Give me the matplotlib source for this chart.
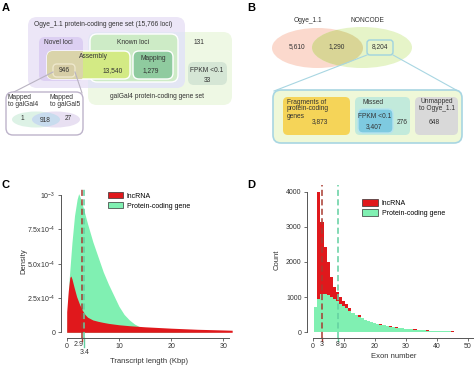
import numpy as np
import matplotlib.pyplot as plt
from matplotlib.patches import FancyBboxPatch, Ellipse, Patch

plt.rcParams['font.family'] = ['Liberation Sans', 'DejaVu Sans']
plt.rcParams['mathtext.fontset'] = 'custom'
plt.rcParams['mathtext.rm'] = 'Liberation Sans'
plt.rcParams['mathtext.it'] = 'Liberation Sans:italic'

# ---- panel A : gene set overlap
a_title = 'Ogye_1.1 protein-coding gene set (15,766 loci)'
a_ref_set = 'galGal4 protein-coding gene set'
a_groups = ['Novel loci', 'Known loci', 'Assembly', 'Mapping']
a_counts = ['946', '13,540', '1,279', '131', '33']
a_sub_labels = ['Mapped\nto galGal4', 'Mapped\nto galGal5']
a_sub_counts = ['1', '918', '27']

# ---- panel B : lncRNA overlap with NONCODE
b_sets = ['Ogye_1.1', 'NONCODE']
b_counts = ['5,610', '1,290', '8,204']
b_groups = ['Fragments of\nprotein-coding\ngenes', 'Missed', 'Unmapped\nto Ogye_1.1']
b_split = ['3,873', '3,407', '276', '648']

# ---- panel C : transcript length density
pc_len = [0, 0.2, 0.5, 1.0, 1.5, 2.0, 2.3, 2.6, 3.0, 3.5, 4.0, 5.0, 6.0, 7.0, 8.0,
          9.0, 10, 11, 12, 13, 14, 15, 17, 20, 25, 31]
pc_dens = np.array([0.0, 0.18, 0.4, 0.65, 0.85, 0.97, 1.01, 0.98, 0.93, 0.86, 0.79,
                    0.66, 0.55, 0.44, 0.35, 0.27, 0.19, 0.13, 0.09, 0.06, 0.04, 0.025,
                    0.012, 0.006, 0.003, 0.001]) * 1e-3
lnc_len = [0, 0.3, 0.6, 0.8, 1.0, 1.4, 1.9, 2.5, 3.0, 3.5, 4.0, 5.0, 6.0, 7.0, 8.0,
           10, 12, 15, 20, 25, 30, 31.7]
lnc_dens = np.array([0.15, 0.3, 0.4, 0.41, 0.39, 0.33, 0.26, 0.2, 0.16, 0.13, 0.11,
                     0.09, 0.08, 0.072, 0.065, 0.055, 0.048, 0.04, 0.03, 0.022, 0.017,
                     0.015]) * 1e-3
len_median = [2.9, 3.4]   # lncRNA, protein-coding

# ---- panel D : exon number histogram (bins 1..52)
exon_lnc = [0, 3980, 3150, 2440, 1990, 1560, 1290, 1150, 1010, 880, 800, 700, 550, 480,
            500, 370, 350, 320, 300, 275, 250, 228, 208, 190, 172, 157, 143, 130, 118,
            107, 97, 88, 80, 72, 65, 59, 53, 48, 44, 40, 36, 33, 30, 27, 25, 22, 20, 18,
            17, 15, 14, 13]
exon_pc = [730, 960, 1100, 1100, 1060, 1000, 950, 880, 810, 750, 680, 610, 545, 490,
           440, 400, 360, 325, 295, 265, 240, 218, 198, 180, 163, 148, 135, 122, 110,
           100, 90, 82, 74, 67, 60, 54, 49, 44, 40, 36, 33, 30, 27, 24, 22, 20, 18, 16,
           15, 13, 12, 11]
exon_median = [3, 8]

RED = '#E0181C'
GREEN = '#80F0B2'
RED_D = '#A83A30'
GREEN_D = '#62CFA0'
TXT = '#333333'
AXC = '#555555'

W, H = 474, 375
fig = plt.figure(figsize=(W / 100, H / 100), dpi=100)

# overlay in pixel coordinates for the diagrams
ov = fig.add_axes([0, 0, 1, 1])
ov.set_xlim(0, W)
ov.set_ylim(H, 0)
ov.axis('off')


def rbox(x0, y0, x1, y1, fc, ec='none', lw=0, r=6, z=1):
    p = FancyBboxPatch((x0, y0), x1 - x0, y1 - y0,
                       boxstyle='round,pad=0,rounding_size=%g' % r,
                       fc=fc, ec=ec, lw=lw, zorder=z)
    ov.add_patch(p)
    return p


def txt(x, y, s, size=4.8, ha='center', **kw):
    ov.text(x, y, s, fontsize=size, ha=ha, va='center', color=TXT, zorder=20,
            linespacing=1.0, **kw)


# ---------------- panel A
gal = rbox(88, 32, 232, 105, '#EEF8E4', r=9, z=1)
ogy = rbox(28, 17, 185, 88, '#ECE6F7', r=9, z=1.1)
ovl = rbox(88, 32, 232, 105, '#E3E6F4', r=9, z=1.2)
ovl.set_clip_path(ogy)
novel = rbox(39, 37, 83, 81, '#DCCFF2', r=6, z=2)
rbox(90, 34, 178, 82, '#CDEBC6', ec='white', lw=1, r=7, z=2)
rbox(47, 51, 130, 79, '#D3EA84', ec='white', lw=1, r=6, z=3)
asm2 = rbox(47, 51, 130, 79, '#DAD4AA', r=6, z=3.1)
asm2.set_clip_path(novel)
rbox(133, 51, 173, 79, '#8FCB9F', ec='white', lw=1, r=6, z=3)
rbox(53, 64, 75, 77, '#D6CDA6', ec='#EEE8CC', lw=1, r=4, z=4)
rbox(188, 62, 227, 85, '#D5E6D5', r=6, z=2)

txt(103, 24, a_title)
txt(157, 97, a_ref_set)
txt(58, 43, a_groups[0])
txt(133, 43, a_groups[1])
txt(93, 56, a_groups[2])
txt(153, 58, a_groups[3])
txt(64, 70.5, a_counts[0])
txt(113, 70.5, a_counts[1])
txt(151, 70.5, a_counts[2])
txt(199, 43, a_counts[3])
txt(207, 70, 'FPKM <0.1')
txt(207, 80, a_counts[4])

ov.plot([53, 12], [72, 93], color='#B9B3C2', lw=0.8, zorder=5)
ov.plot([75, 82], [72, 93], color='#B9B3C2', lw=0.8, zorder=5)
rbox(6, 92, 83, 135, 'white', ec='#BDB3CA', lw=1, r=7, z=6)
el = Ellipse((36, 119.5), 48, 16, fc='#DDF2E6', ec='none', zorder=7)
er = Ellipse((56, 119.5), 48, 16, fc='#E8E0F2', ec='none', zorder=7)
ov.add_patch(el)
ov.add_patch(er)
eo = Ellipse((56, 119.5), 48, 16, fc='#C8DCEE', ec='none', zorder=8)
ov.add_patch(eo)
eo.set_clip_path(el)
txt(8, 101, a_sub_labels[0], ha='left')
txt(50, 101, a_sub_labels[1], ha='left')
txt(22, 119, a_sub_counts[0])
txt(45, 120, a_sub_counts[1])
txt(68, 119, a_sub_counts[2])

# ---------------- panel B
ep = Ellipse((317.5, 48), 91, 40, fc='#FBD9CD', ec='none', zorder=1)
eg = Ellipse((362, 47.5), 100, 41, fc='#E6F4C8', ec='none', zorder=1.1)
ov.add_patch(ep)
ov.add_patch(eg)
eb = Ellipse((362, 47.5), 100, 41, fc='#D9D596', ec='none', zorder=1.2)
ov.add_patch(eb)
eb.set_clip_path(ep)
rbox(367, 40, 393, 55, 'none', ec='#9FD3E0', lw=1, r=3, z=3)
txt(308, 20, b_sets[0])
txt(367, 20, b_sets[1])
txt(297, 47, b_counts[0])
txt(337, 47, b_counts[1])
txt(380, 47, b_counts[2])

ov.plot([367, 274], [55, 91], color='#A8D6E2', lw=0.8, zorder=2)
ov.plot([393, 458], [55, 91], color='#A8D6E2', lw=0.8, zorder=2)
rbox(273, 90, 462, 143, '#EFF8D8', ec='#A8D6E2', lw=1.2, r=8, z=3)
rbox(283, 97, 350, 135, '#F5D458', r=5, z=4)
rbox(355, 97, 410, 135, '#C2EADB', r=5, z=4)
rbox(358, 109, 393, 133, '#7ECAE0', ec='#B5E3EF', lw=1, r=5, z=5)
rbox(415, 97, 458, 135, '#D9D9D9', r=5, z=4)
txt(287, 109, b_groups[0], ha='left')
txt(320, 122, b_split[0])
txt(373, 103, b_groups[1])
txt(375, 117, 'FPKM <0.1')
txt(374, 127, b_split[1])
txt(402, 122, b_split[2])
txt(437, 105, b_groups[2])
txt(434, 122, b_split[3])

for x, y, s in [(2, 8, 'A'), (247, 8, 'B'), (2, 185, 'C'), (247, 185, 'D')]:
    ov.text(x, y, s, fontsize=8, fontweight='bold', ha='left', va='center', zorder=30)


# ---------------- R-like axes helper
def style(ax, xb, yb):
    for s in ['top', 'right']:
        ax.spines[s].set_visible(False)
    ax.spines['left'].set_position(('outward', 4.3))
    ax.spines['bottom'].set_position(('outward', 3.9))
    ax.spines['left'].set_bounds(*yb)
    ax.spines['bottom'].set_bounds(*xb)
    for s in ['left', 'bottom']:
        ax.spines[s].set_color(AXC)
        ax.spines[s].set_linewidth(0.7)
    ax.tick_params(length=2.2, width=0.6, color=AXC, labelsize=5, labelcolor=TXT, pad=1.5)
    ax.patch.set_alpha(0)


# ---------------- panel C
px_c = 5.22
axc = fig.add_axes([66.7 / W, 1 - 332.3 / H, 31.7 * px_c / W, (332.3 - 189.5) / H])
axc.fill_between(pc_len, pc_dens, color=GREEN, lw=0, zorder=1)
axc.fill_between(lnc_len, lnc_dens, color=RED, lw=0, zorder=2)
axc.set_xlim(0, 31.7)
axc.set_ylim(0, 1.04e-3)
axc.set_yticks([0, 2.5e-4, 5e-4, 7.5e-4, 1e-3])
axc.set_yticklabels(['0', r'2.5x10$^{-4}$', r'5.0x10$^{-4}$', r'7.5x10$^{-4}$', r'10$^{-3}$'])
axc.set_xticks([0, 10, 20, 30])
style(axc, (0, 31), (0, 1e-3))
axc.axvline(len_median[0], ymin=-0.038, ymax=1.02, color=RED_D, lw=1.1,
            ls=(0, (4, 2.2)), clip_on=False, zorder=3)
axc.axvline(len_median[1], ymin=-0.038, ymax=1.02, color=GREEN_D, lw=1.1,
            ls=(0, (4, 2.2)), clip_on=False, zorder=3)
axc.axvline(len_median[0], ymin=-0.038, ymax=-0.06, color=RED_D, lw=1, clip_on=False)
axc.axvline(len_median[1], ymin=-0.038, ymax=-0.1, color=GREEN_D, lw=1, clip_on=False)
axc.annotate('2.9', xy=(len_median[0], 0), xycoords=('data', 'axes fraction'),
             xytext=(-2, -6.3), textcoords='offset points', ha='center', va='top',
             fontsize=5, color=TXT)
axc.annotate('3.4', xy=(len_median[1], 0), xycoords=('data', 'axes fraction'),
             xytext=(0, -12.2), textcoords='offset points', ha='center', va='top',
             fontsize=5, color=TXT)
axc.set_xlabel('Transcript length (Kbp)', fontsize=5.5, color=TXT, labelpad=6)
axc.set_ylabel('Density', fontsize=5.5, color=TXT, labelpad=0)
axc.legend(handles=[Patch(fc=RED, ec='#333333', lw=0.5, label='lncRNA'),
                    Patch(fc=GREEN, ec='#333333', lw=0.5, label='Protein-coding gene')],
           loc='upper left', bbox_to_anchor=(0.23, 1.0), frameon=False, fontsize=5,
           handlelength=2.2, handleheight=1.0, labelspacing=0.35, borderaxespad=0,
           handletextpad=0.6)

# ---------------- panel D
px_d = 3.1
edges = np.arange(0.5, len(exon_pc) + 1.0, 1.0)
axd = fig.add_axes([312.7 / W, 1 - 332.3 / H, 52 * px_d / W, 4150 * 0.03515 / H])
axd.stairs(exon_lnc, edges, fill=True, color=RED, lw=0, zorder=1)
axd.stairs(exon_pc, edges, fill=True, color=GREEN, lw=0, zorder=2)
axd.set_xlim(0, 52)
axd.set_ylim(0, 4150)
axd.set_yticks([0, 1000, 2000, 3000, 4000])
axd.set_xticks([0, 10, 20, 30, 40, 50])
style(axd, (0, 52), (0, 4000))
axd.axvline(exon_median[0], ymin=-0.037, ymax=1.01, color=RED_D, lw=1.1,
            ls=(0, (4, 2.2)), clip_on=False, zorder=3)
axd.axvline(exon_median[1], ymin=-0.037, ymax=1.01, color=GREEN_D, lw=1.1,
            ls=(0, (4, 2.2)), clip_on=False, zorder=3)
axd.axvline(exon_median[0], ymin=-0.037, ymax=-0.06, color=RED_D, lw=1, clip_on=False)
axd.axvline(exon_median[1], ymin=-0.037, ymax=-0.06, color=GREEN_D, lw=1, clip_on=False)
for v in exon_median:
    axd.annotate(str(v), xy=(v, 0), xycoords=('data', 'axes fraction'),
                 xytext=(0, -6.3), textcoords='offset points', ha='center', va='top',
                 fontsize=5, color=TXT)
axd.set_xlabel('Exon number', fontsize=5.5, color=TXT, labelpad=2)
axd.set_ylabel('Count', fontsize=5.5, color=TXT, labelpad=4)
axd.legend(handles=[Patch(fc=RED, ec='#333333', lw=0.5, label='lncRNA'),
                    Patch(fc=GREEN, ec='#333333', lw=0.5, label='Protein-coding gene')],
           loc='upper left', bbox_to_anchor=(0.29, 0.93), frameon=False, fontsize=5,
           handlelength=2.2, handleheight=1.0, labelspacing=0.35, borderaxespad=0,
           handletextpad=0.6)

fig.savefig('out.png', dpi=100)
